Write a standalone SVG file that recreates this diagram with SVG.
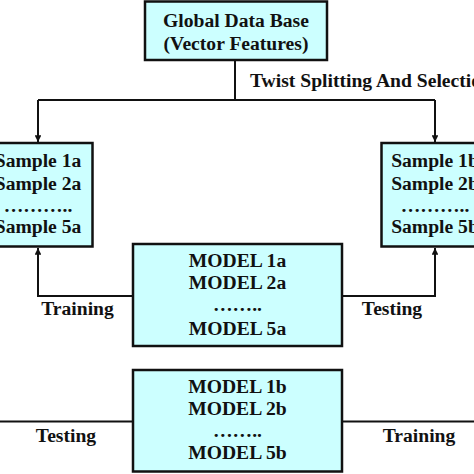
<svg xmlns="http://www.w3.org/2000/svg" width="474" height="474" viewBox="0 0 474 474">
<defs>
<style>
.box{fill:#ccffff;stroke:#111;stroke-width:2.5}
.t{font-family:"Liberation Serif","Times New Roman",serif;font-weight:bold;font-size:19.6px;fill:#111;text-anchor:middle}
.ln{fill:none;stroke:#111;stroke-width:2}
</style>
<marker id="ah" viewBox="0 0 10 10" refX="10" refY="5" markerWidth="3.4" markerHeight="3.4" orient="auto" markerUnits="strokeWidth">
<path d="M0,0 L10,5 L0,10 z" fill="#111"/>
</marker>
</defs>
<rect width="474" height="474" fill="#fff"/>
<g id="connectors">
<path class="ln" d="M235,60 V100"/>
<path class="ln" d="M38,100 H435"/>
<path class="ln" d="M38,100 V142" marker-end="url(#ah)"/>
<path class="ln" d="M435,100 V142" marker-end="url(#ah)"/>
<path class="ln" d="M133,296 H38 V248" marker-end="url(#ah)"/>
<path class="ln" d="M342,296 H435 V248" marker-end="url(#ah)"/>
<path class="ln" d="M0,421.5 H133"/>
<path class="ln" d="M342,421.5 H474"/>
<text class="t" x="250" y="87" style="text-anchor:start">Twist Splitting And Selection</text>
<text class="t" x="77.5" y="315">Training</text>
<text class="t" x="392" y="315">Testing</text>
<text class="t" x="66" y="442">Testing</text>
<text class="t" x="419" y="442">Training</text>
</g>
<g id="global">
<rect class="box" x="145" y="1.5" width="182" height="58.5"/>
<text class="t" x="236" y="27">Global Data Base</text>
<text class="t" x="236" y="50">(Vector Features)</text>
</g>
<g id="sampleA">
<rect class="box" x="-20" y="143" width="112.5" height="103.5"/>
<text class="t" x="38" y="167">Sample 1a</text>
<text class="t" x="38" y="190">Sample 2a</text>
<text class="t" x="38" y="212">………..</text>
<text class="t" x="38" y="233">Sample 5a</text>
</g>
<g id="sampleB">
<rect class="box" x="381.5" y="143" width="112.5" height="103.5"/>
<text class="t" x="435" y="167">Sample 1b</text>
<text class="t" x="435" y="190">Sample 2b</text>
<text class="t" x="435" y="212">………..</text>
<text class="t" x="435" y="233">Sample 5b</text>
</g>
<g id="modelA">
<rect class="box" x="133" y="244" width="209" height="102"/>
<text class="t" x="237.5" y="267">MODEL 1a</text>
<text class="t" x="237.5" y="289">MODEL 2a</text>
<text class="t" x="237.5" y="311">……..</text>
<text class="t" x="237.5" y="335">MODEL 5a</text>
</g>
<g id="modelB">
<rect class="box" x="133" y="370" width="209" height="101.5"/>
<text class="t" x="237.5" y="393">MODEL 1b</text>
<text class="t" x="237.5" y="415">MODEL 2b</text>
<text class="t" x="237.5" y="437">……..</text>
<text class="t" x="237.5" y="459">MODEL 5b</text>
</g>
</svg>
